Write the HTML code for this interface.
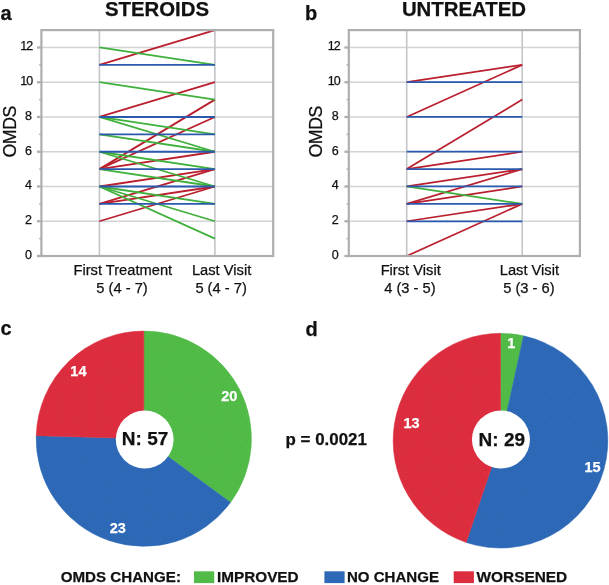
<!DOCTYPE html>
<html lang="en"><head><meta charset="utf-8"><title>OMDS change</title>
<style>html,body{margin:0;padding:0;background:#fff}svg{display:block}text{font-family:"Liberation Sans", Arial, Helvetica, sans-serif;fill:#111;stroke:#111;stroke-width:0.25px}</style></head><body>
<svg width="609" height="585" viewBox="0 0 609 585">
<rect width="609" height="585" fill="#fff"/>
<line x1="41.4" y1="221.25" x2="273.2" y2="221.25" stroke="#d2d3d5" stroke-width="1.3"/>
<line x1="41.4" y1="186.49" x2="273.2" y2="186.49" stroke="#d2d3d5" stroke-width="1.3"/>
<line x1="41.4" y1="151.74" x2="273.2" y2="151.74" stroke="#d2d3d5" stroke-width="1.3"/>
<line x1="41.4" y1="116.98" x2="273.2" y2="116.98" stroke="#d2d3d5" stroke-width="1.3"/>
<line x1="41.4" y1="82.23" x2="273.2" y2="82.23" stroke="#d2d3d5" stroke-width="1.3"/>
<line x1="41.4" y1="47.48" x2="273.2" y2="47.48" stroke="#d2d3d5" stroke-width="1.3"/>
<line x1="99.4" y1="30.1" x2="99.4" y2="256.0" stroke="#c3c5c8" stroke-width="1.6"/>
<line x1="214.9" y1="30.1" x2="214.9" y2="256.0" stroke="#c3c5c8" stroke-width="1.6"/>
<line x1="99.4" y1="64.85" x2="214.9" y2="30.10" stroke="#ba1f2e" stroke-width="1.80" stroke-linecap="butt"/>
<line x1="99.4" y1="116.98" x2="214.9" y2="82.23" stroke="#ba1f2e" stroke-width="1.80" stroke-linecap="butt"/>
<line x1="99.4" y1="169.12" x2="214.9" y2="99.61" stroke="#ba1f2e" stroke-width="1.80" stroke-linecap="butt"/>
<line x1="99.4" y1="169.12" x2="214.9" y2="116.98" stroke="#ba1f2e" stroke-width="1.80" stroke-linecap="butt"/>
<line x1="99.4" y1="169.12" x2="214.9" y2="151.74" stroke="#ba1f2e" stroke-width="1.80" stroke-linecap="butt"/>
<line x1="99.4" y1="186.49" x2="214.9" y2="169.12" stroke="#ba1f2e" stroke-width="1.80" stroke-linecap="butt"/>
<line x1="99.4" y1="203.87" x2="214.9" y2="169.12" stroke="#ba1f2e" stroke-width="1.80" stroke-linecap="butt"/>
<line x1="99.4" y1="203.87" x2="214.9" y2="186.49" stroke="#ba1f2e" stroke-width="1.80" stroke-linecap="butt"/>
<line x1="99.4" y1="221.25" x2="214.9" y2="186.49" stroke="#ba1f2e" stroke-width="1.80" stroke-linecap="butt"/>
<line x1="99.4" y1="47.48" x2="214.9" y2="64.85" stroke="#3fb03c" stroke-width="1.80" stroke-linecap="butt"/>
<line x1="99.4" y1="82.23" x2="214.9" y2="99.61" stroke="#3fb03c" stroke-width="1.80" stroke-linecap="butt"/>
<line x1="99.4" y1="116.98" x2="214.9" y2="134.36" stroke="#3fb03c" stroke-width="1.80" stroke-linecap="butt"/>
<line x1="99.4" y1="116.98" x2="214.9" y2="151.74" stroke="#3fb03c" stroke-width="1.80" stroke-linecap="butt"/>
<line x1="99.4" y1="134.36" x2="214.9" y2="151.74" stroke="#3fb03c" stroke-width="1.80" stroke-linecap="butt"/>
<line x1="99.4" y1="151.74" x2="214.9" y2="169.12" stroke="#3fb03c" stroke-width="1.80" stroke-linecap="butt"/>
<line x1="99.4" y1="151.74" x2="214.9" y2="186.49" stroke="#3fb03c" stroke-width="1.80" stroke-linecap="butt"/>
<line x1="99.4" y1="169.12" x2="214.9" y2="186.49" stroke="#3fb03c" stroke-width="1.80" stroke-linecap="butt"/>
<line x1="99.4" y1="186.49" x2="214.9" y2="203.87" stroke="#3fb03c" stroke-width="1.80" stroke-linecap="butt"/>
<line x1="99.4" y1="186.49" x2="214.9" y2="221.25" stroke="#3fb03c" stroke-width="1.80" stroke-linecap="butt"/>
<line x1="99.4" y1="186.49" x2="214.9" y2="238.62" stroke="#3fb03c" stroke-width="1.80" stroke-linecap="butt"/>
<line x1="99.4" y1="64.85" x2="214.9" y2="64.85" stroke="#2a59ad" stroke-width="1.80" stroke-linecap="butt"/>
<line x1="99.4" y1="116.98" x2="214.9" y2="116.98" stroke="#2a59ad" stroke-width="1.80" stroke-linecap="butt"/>
<line x1="99.4" y1="134.36" x2="214.9" y2="134.36" stroke="#2a59ad" stroke-width="1.80" stroke-linecap="butt"/>
<line x1="99.4" y1="151.74" x2="214.9" y2="151.74" stroke="#2a59ad" stroke-width="1.80" stroke-linecap="butt"/>
<line x1="99.4" y1="169.12" x2="214.9" y2="169.12" stroke="#2a59ad" stroke-width="1.80" stroke-linecap="butt"/>
<line x1="99.4" y1="186.49" x2="214.9" y2="186.49" stroke="#2a59ad" stroke-width="1.80" stroke-linecap="butt"/>
<line x1="99.4" y1="203.87" x2="214.9" y2="203.87" stroke="#2a59ad" stroke-width="1.80" stroke-linecap="butt"/>
<rect x="41.4" y="30.1" width="231.8" height="225.9" fill="none" stroke="#acaeb0" stroke-width="2.2"/>
<line x1="37.0" y1="256.00" x2="41.4" y2="256.00" stroke="#acaeb0" stroke-width="2.3"/>
<text x="32.0" y="258.90" font-size="12.5" text-anchor="end">0</text>
<line x1="39.2" y1="238.62" x2="41.4" y2="238.62" stroke="#acaeb0" stroke-width="1.5"/>
<line x1="37.0" y1="221.25" x2="41.4" y2="221.25" stroke="#acaeb0" stroke-width="2.3"/>
<text x="32.0" y="224.15" font-size="12.5" text-anchor="end">2</text>
<line x1="39.2" y1="203.87" x2="41.4" y2="203.87" stroke="#acaeb0" stroke-width="1.5"/>
<line x1="37.0" y1="186.49" x2="41.4" y2="186.49" stroke="#acaeb0" stroke-width="2.3"/>
<text x="32.0" y="189.39" font-size="12.5" text-anchor="end">4</text>
<line x1="39.2" y1="169.12" x2="41.4" y2="169.12" stroke="#acaeb0" stroke-width="1.5"/>
<line x1="37.0" y1="151.74" x2="41.4" y2="151.74" stroke="#acaeb0" stroke-width="2.3"/>
<text x="32.0" y="154.64" font-size="12.5" text-anchor="end">6</text>
<line x1="39.2" y1="134.36" x2="41.4" y2="134.36" stroke="#acaeb0" stroke-width="1.5"/>
<line x1="37.0" y1="116.98" x2="41.4" y2="116.98" stroke="#acaeb0" stroke-width="2.3"/>
<text x="32.0" y="119.88" font-size="12.5" text-anchor="end">8</text>
<line x1="39.2" y1="99.61" x2="41.4" y2="99.61" stroke="#acaeb0" stroke-width="1.5"/>
<line x1="37.0" y1="82.23" x2="41.4" y2="82.23" stroke="#acaeb0" stroke-width="2.3"/>
<text x="32.4" y="85.13" font-size="12.5" text-anchor="end" letter-spacing="-0.9">10</text>
<line x1="39.2" y1="64.85" x2="41.4" y2="64.85" stroke="#acaeb0" stroke-width="1.5"/>
<line x1="37.0" y1="47.48" x2="41.4" y2="47.48" stroke="#acaeb0" stroke-width="2.3"/>
<text x="32.4" y="50.38" font-size="12.5" text-anchor="end" letter-spacing="-0.9">12</text>
<text x="122.8" y="274.6" font-size="14.7" text-anchor="middle">First Treatment</text>
<text x="122.0" y="292.8" font-size="14.7" text-anchor="middle">5 (4 - 7)</text>
<text x="221.6" y="274.6" font-size="14.7" text-anchor="middle">Last Visit</text>
<text x="221.1" y="292.8" font-size="14.7" text-anchor="middle">5 (4 - 7)</text>
<line x1="348.8" y1="221.25" x2="579.9" y2="221.25" stroke="#d2d3d5" stroke-width="1.3"/>
<line x1="348.8" y1="186.49" x2="579.9" y2="186.49" stroke="#d2d3d5" stroke-width="1.3"/>
<line x1="348.8" y1="151.74" x2="579.9" y2="151.74" stroke="#d2d3d5" stroke-width="1.3"/>
<line x1="348.8" y1="116.98" x2="579.9" y2="116.98" stroke="#d2d3d5" stroke-width="1.3"/>
<line x1="348.8" y1="82.23" x2="579.9" y2="82.23" stroke="#d2d3d5" stroke-width="1.3"/>
<line x1="348.8" y1="47.48" x2="579.9" y2="47.48" stroke="#d2d3d5" stroke-width="1.3"/>
<line x1="406.7" y1="30.1" x2="406.7" y2="256.0" stroke="#c3c5c8" stroke-width="1.6"/>
<line x1="522.2" y1="30.1" x2="522.2" y2="256.0" stroke="#c3c5c8" stroke-width="1.6"/>
<line x1="406.7" y1="82.23" x2="522.2" y2="64.85" stroke="#ba1f2e" stroke-width="1.75" stroke-linecap="butt"/>
<line x1="406.7" y1="116.98" x2="522.2" y2="64.85" stroke="#ba1f2e" stroke-width="1.75" stroke-linecap="butt"/>
<line x1="406.7" y1="169.12" x2="522.2" y2="99.61" stroke="#ba1f2e" stroke-width="1.75" stroke-linecap="butt"/>
<line x1="406.7" y1="169.12" x2="522.2" y2="151.74" stroke="#ba1f2e" stroke-width="1.75" stroke-linecap="butt"/>
<line x1="406.7" y1="186.49" x2="522.2" y2="169.12" stroke="#ba1f2e" stroke-width="1.75" stroke-linecap="butt"/>
<line x1="406.7" y1="203.87" x2="522.2" y2="169.12" stroke="#ba1f2e" stroke-width="1.75" stroke-linecap="butt"/>
<line x1="406.7" y1="203.87" x2="522.2" y2="186.49" stroke="#ba1f2e" stroke-width="1.75" stroke-linecap="butt"/>
<line x1="406.7" y1="221.25" x2="522.2" y2="203.87" stroke="#ba1f2e" stroke-width="1.75" stroke-linecap="butt"/>
<line x1="406.7" y1="256.00" x2="522.2" y2="203.87" stroke="#ba1f2e" stroke-width="1.75" stroke-linecap="butt"/>
<line x1="406.7" y1="186.49" x2="522.2" y2="203.87" stroke="#3fb03c" stroke-width="1.75" stroke-linecap="butt"/>
<line x1="406.7" y1="82.23" x2="522.2" y2="82.23" stroke="#2a59ad" stroke-width="1.75" stroke-linecap="butt"/>
<line x1="406.7" y1="116.98" x2="522.2" y2="116.98" stroke="#2a59ad" stroke-width="1.75" stroke-linecap="butt"/>
<line x1="406.7" y1="151.74" x2="522.2" y2="151.74" stroke="#2a59ad" stroke-width="1.75" stroke-linecap="butt"/>
<line x1="406.7" y1="169.12" x2="522.2" y2="169.12" stroke="#2a59ad" stroke-width="1.75" stroke-linecap="butt"/>
<line x1="406.7" y1="186.49" x2="522.2" y2="186.49" stroke="#2a59ad" stroke-width="1.75" stroke-linecap="butt"/>
<line x1="406.7" y1="203.87" x2="522.2" y2="203.87" stroke="#2a59ad" stroke-width="1.75" stroke-linecap="butt"/>
<line x1="406.7" y1="221.25" x2="522.2" y2="221.25" stroke="#2a59ad" stroke-width="1.75" stroke-linecap="butt"/>
<rect x="348.8" y="30.1" width="231.1" height="225.9" fill="none" stroke="#acaeb0" stroke-width="2.2"/>
<line x1="344.4" y1="256.00" x2="348.8" y2="256.00" stroke="#acaeb0" stroke-width="2.3"/>
<text x="338.7" y="258.90" font-size="12.5" text-anchor="end">0</text>
<line x1="346.6" y1="238.62" x2="348.8" y2="238.62" stroke="#acaeb0" stroke-width="1.5"/>
<line x1="344.4" y1="221.25" x2="348.8" y2="221.25" stroke="#acaeb0" stroke-width="2.3"/>
<text x="338.7" y="224.15" font-size="12.5" text-anchor="end">2</text>
<line x1="346.6" y1="203.87" x2="348.8" y2="203.87" stroke="#acaeb0" stroke-width="1.5"/>
<line x1="344.4" y1="186.49" x2="348.8" y2="186.49" stroke="#acaeb0" stroke-width="2.3"/>
<text x="338.7" y="189.39" font-size="12.5" text-anchor="end">4</text>
<line x1="346.6" y1="169.12" x2="348.8" y2="169.12" stroke="#acaeb0" stroke-width="1.5"/>
<line x1="344.4" y1="151.74" x2="348.8" y2="151.74" stroke="#acaeb0" stroke-width="2.3"/>
<text x="338.7" y="154.64" font-size="12.5" text-anchor="end">6</text>
<line x1="346.6" y1="134.36" x2="348.8" y2="134.36" stroke="#acaeb0" stroke-width="1.5"/>
<line x1="344.4" y1="116.98" x2="348.8" y2="116.98" stroke="#acaeb0" stroke-width="2.3"/>
<text x="338.7" y="119.88" font-size="12.5" text-anchor="end">8</text>
<line x1="346.6" y1="99.61" x2="348.8" y2="99.61" stroke="#acaeb0" stroke-width="1.5"/>
<line x1="344.4" y1="82.23" x2="348.8" y2="82.23" stroke="#acaeb0" stroke-width="2.3"/>
<text x="339.8" y="85.13" font-size="12.5" text-anchor="end" letter-spacing="-0.9">10</text>
<line x1="346.6" y1="64.85" x2="348.8" y2="64.85" stroke="#acaeb0" stroke-width="1.5"/>
<line x1="344.4" y1="47.48" x2="348.8" y2="47.48" stroke="#acaeb0" stroke-width="2.3"/>
<text x="339.8" y="50.38" font-size="12.5" text-anchor="end" letter-spacing="-0.9">12</text>
<text x="410.7" y="274.6" font-size="14.7" text-anchor="middle">First Visit</text>
<text x="409.9" y="292.8" font-size="14.7" text-anchor="middle">4 (3 - 5)</text>
<text x="529.4" y="274.6" font-size="14.7" text-anchor="middle">Last Visit</text>
<text x="528.9" y="292.8" font-size="14.7" text-anchor="middle">5 (3 - 6)</text>
<text x="157" y="15.7" font-size="20.4" font-weight="bold" text-anchor="middle">STEROIDS</text>
<text x="464" y="15.7" font-size="20.4" font-weight="bold" text-anchor="middle">UNTREATED</text>
<text x="0.4" y="20" font-size="20" font-weight="bold">a</text>
<text x="305" y="20" font-size="20" font-weight="bold">b</text>
<text x="0.5" y="335.3" font-size="20" font-weight="bold">c</text>
<text x="305.4" y="336" font-size="20" font-weight="bold">d</text>
<text transform="translate(15.5,131.8) rotate(-90)" font-size="17.8" letter-spacing="-0.5" text-anchor="middle">OMDS</text>
<text transform="translate(322.1,131.8) rotate(-90)" font-size="17.8" letter-spacing="-0.5" text-anchor="middle">OMDS</text>
<defs>
<pattern id="pg" width="2" height="2" patternUnits="userSpaceOnUse" patternTransform="rotate(45)"><rect width="2" height="2" fill="#57c04c"/><rect width="1.2" height="1.2" fill="#47b23f"/></pattern>
<pattern id="pb" width="2" height="2" patternUnits="userSpaceOnUse" patternTransform="rotate(45)"><rect width="2" height="2" fill="#2f6dbd"/><rect width="1.2" height="1.2" fill="#2a60ab"/></pattern>
<pattern id="pr" width="2" height="2" patternUnits="userSpaceOnUse" patternTransform="rotate(45)"><rect width="2" height="2" fill="#e42e41"/><rect width="1.2" height="1.2" fill="#ce2a3a"/></pattern>
</defs>
<path d="M143.80 438.70 L143.80 331.05 A107.65 107.65 0 0 1 230.54 502.45 Z" fill="url(#pg)" stroke="#51bb47" stroke-width="0.5" stroke-linejoin="round"/>
<path d="M143.80 438.70 L230.54 502.45 A107.65 107.65 0 0 1 36.19 435.73 Z" fill="url(#pb)" stroke="#2d68b6" stroke-width="0.5" stroke-linejoin="round"/>
<path d="M143.80 438.70 L36.19 435.73 A107.65 107.65 0 0 1 143.80 331.05 Z" fill="url(#pr)" stroke="#dc2d3f" stroke-width="0.5" stroke-linejoin="round"/>
<circle cx="144.70" cy="439.50" r="28.9" fill="#fff"/>
<text x="145.1" y="444.6" font-size="19" font-weight="bold" text-anchor="middle">N: 57</text>
<text x="229.2" y="400.8" font-size="14.5" font-weight="bold" text-anchor="middle" style="fill:#fff;stroke:#fff">20</text>
<text x="117.7" y="533.3" font-size="14.5" font-weight="bold" text-anchor="middle" style="fill:#fff;stroke:#fff">23</text>
<text x="78.4" y="376.2" font-size="14.5" font-weight="bold" text-anchor="middle" style="fill:#fff;stroke:#fff">14</text>
<path d="M500.50 440.70 L500.50 333.35 A107.35 107.35 0 0 1 523.58 335.86 Z" fill="url(#pg)" stroke="#51bb47" stroke-width="0.5" stroke-linejoin="round"/>
<path d="M500.50 440.70 L523.58 335.86 A107.35 107.35 0 1 1 466.22 542.43 Z" fill="url(#pb)" stroke="#2d68b6" stroke-width="0.5" stroke-linejoin="round"/>
<path d="M500.50 440.70 L466.22 542.43 A107.35 107.35 0 0 1 500.50 333.35 Z" fill="url(#pr)" stroke="#dc2d3f" stroke-width="0.5" stroke-linejoin="round"/>
<circle cx="500.95" cy="439.50" r="29.0" fill="#fff"/>
<text x="501.8" y="446.3" font-size="19" font-weight="bold" text-anchor="middle">N: 29</text>
<text x="511.4" y="348.2" font-size="14.5" font-weight="bold" text-anchor="middle" style="fill:#fff;stroke:#fff">1</text>
<text x="592.5" y="471.8" font-size="14.5" font-weight="bold" text-anchor="middle" style="fill:#fff;stroke:#fff">15</text>
<text x="411.6" y="428.3" font-size="14.5" font-weight="bold" text-anchor="middle" style="fill:#fff;stroke:#fff">13</text>
<text x="285.6" y="444.8" font-size="16.9" font-weight="bold">p = 0.0021</text>
<text x="60.7" y="582.3" font-size="15.15" font-weight="bold">OMDS CHANGE:</text>
<rect x="194" y="571.3" width="20.2" height="11.8" fill="url(#pg)"/>
<text x="217" y="582.3" font-size="15.3" font-weight="bold">IMPROVED</text>
<rect x="324.4" y="571.3" width="20.2" height="11.8" fill="url(#pb)"/>
<text x="347" y="582.3" font-size="15.05" font-weight="bold">NO CHANGE</text>
<rect x="453.7" y="571.3" width="20.2" height="11.8" fill="url(#pr)"/>
<text x="476.6" y="582.3" font-size="15.4" font-weight="bold">WORSENED</text>
</svg></body></html>
